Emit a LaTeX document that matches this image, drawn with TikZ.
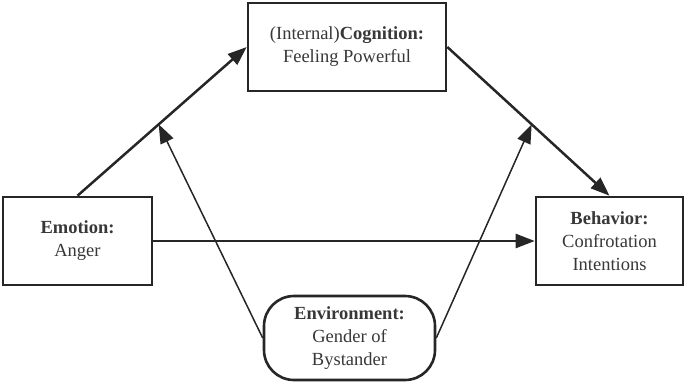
\documentclass[tikz,border=0pt]{standalone}
\usepackage{fontspec}
\setmainfont{Liberation Serif}
\usetikzlibrary{arrows.meta,positioning}
\definecolor{inkgray}{HTML}{262626}
\definecolor{textgray}{HTML}{383838}

\begin{document}
\begin{tikzpicture}[x=1pt, y=1pt, font=\fontsize{18.5}{23}\selectfont, >={Triangle[length=19pt,width=14pt]}]
  \tikzstyle{box}=[draw=inkgray, line width=2.6pt, align=center, text=textgray, inner sep=0pt, fill=white]
  \tikzstyle{link}=[->, draw=inkgray, fill=inkgray, line width=2.5pt]
  \tikzstyle{moderate}=[->, draw=inkgray, fill=inkgray, line width=1.5pt]
  \useasboundingbox (0,0) rectangle (685,384);

  \node[box, minimum width=198pt, minimum height=88pt] (cog) at (347,337) {(Internal)\textbf{Cognition:}\\Feeling Powerful};
  \node[box, minimum width=149pt, minimum height=88pt] (emo) at (77.5,143) {\textbf{Emotion:}\\Anger};
  \node[box, minimum width=147pt, minimum height=88pt] (beh) at (609.5,143) {\textbf{Behavior:}\\Confrotation\\Intentions};
  \node[box, rounded corners=30pt, minimum width=171pt, minimum height=84pt] (env) at (349.5,46) {\textbf{Environment:}\\Gender of\\Bystander};

  \draw[link] (emo.north) -- coordinate[pos=0.48] (emocog) (cog.west);
  \draw[link] (cog.east) -- coordinate[pos=0.52] (cogbeh) (beh.north);
  \draw[link] (emo.east) -- (beh.west);
  \draw[moderate] (env.west) -- (emocog);
  \draw[moderate] (env.east) -- (cogbeh);
\end{tikzpicture}
\end{document}
